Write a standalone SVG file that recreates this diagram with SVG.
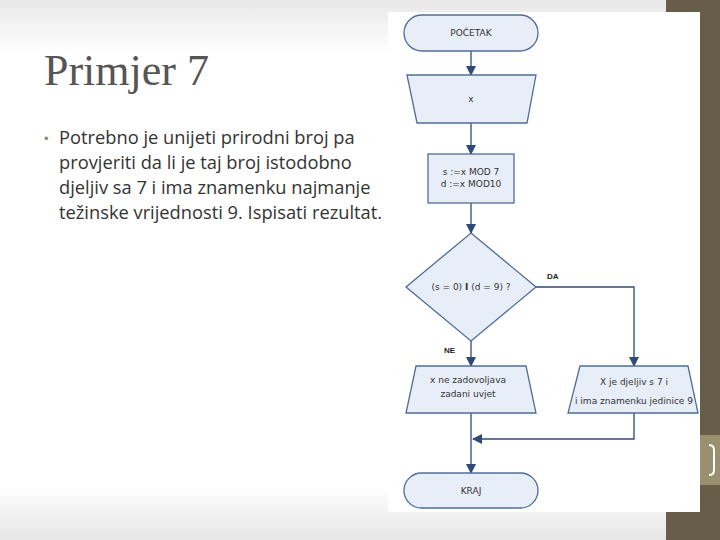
<svg xmlns="http://www.w3.org/2000/svg" width="720" height="540" viewBox="0 0 720 540">
<defs>
<linearGradient id="bg" x1="0" y1="0" x2="0" y2="1"><stop offset="0" stop-color="#e8e8e8"/><stop offset="0.1" stop-color="#ffffff"/><stop offset="0.9" stop-color="#ffffff"/><stop offset="1" stop-color="#e6e6e6"/></linearGradient>
<marker id="ah" markerWidth="10" markerHeight="10" refX="9" refY="5" orient="auto" markerUnits="userSpaceOnUse"><path d="M0,0 L10,5 L0,10 z" fill="#2e4a7a"/></marker>
<style>
.n{fill:#e8eef8;stroke:#4f6d96;stroke-width:1.3}
.c{fill:none;stroke:#2e4a7a;stroke-width:1.3}
.t{font-family:"DejaVu Sans",sans-serif;font-size:9px;fill:#333;text-anchor:middle}
.b{font-family:"Liberation Sans",sans-serif;font-size:8px;font-weight:bold;fill:#222}
.body{font-family:"Open Sans","Liberation Sans",sans-serif;font-size:18.3px;fill:#333}
</style>
</defs>
<rect width="720" height="540" fill="url(#bg)"/>
<rect x="666" y="0" width="54" height="540" fill="#675d48"/>
<rect x="700" y="435" width="20" height="50" fill="#9a9070"/>
<path d="M709,445 q5,0 5,5 v20 q0,5 -5,5" fill="none" stroke="#fff" stroke-width="2"/>
<rect x="388" y="12" width="312" height="500" fill="#ffffff"/>
<text x="44" y="85" font-family="Liberation Serif,serif" font-size="44" fill="#555">Primjer 7</text>
<text x="44" y="143" font-family="Liberation Sans,sans-serif" font-size="13" fill="#8a8a7a">•</text>
<text class="body"><tspan x="59" y="144">Potrebno je unijeti prirodni broj pa</tspan><tspan x="59" y="169">provjeriti da li je taj broj istodobno</tspan><tspan x="59" y="194">djeljiv sa 7 i ima znamenku najmanje</tspan><tspan x="59" y="219">težinske vrijednosti 9. Ispisati rezultat.</tspan></text>
<g id="connectors">
<path class="c" d="M471,51 V75" marker-end="url(#ah)"/>
<path class="c" d="M471,123 V154" marker-end="url(#ah)"/>
<path class="c" d="M471,203 V233" marker-end="url(#ah)"/>
<path class="c" d="M536,287 H634 V366" marker-end="url(#ah)"/>
<path class="c" d="M471,341 V366" marker-end="url(#ah)"/>
<path class="c" d="M634,413 V439 H473" marker-end="url(#ah)"/>
<path class="c" d="M471,413 V473" marker-end="url(#ah)"/>
<text class="b" x="547" y="279">DA</text>
<text class="b" x="444" y="353">NE</text>
</g>
<g id="start"><rect class="n" x="404" y="15" width="134" height="36" rx="18"/><text class="t" x="471" y="36">POČETAK</text></g>
<g id="input"><path class="n" d="M407,75 H536 L527,123 H417 Z"/><text class="t" x="471" y="102">x</text></g>
<g id="process"><rect class="n" x="428" y="154" width="86" height="49"/><text class="t" x="471" y="175">s :=x MOD 7</text><text class="t" x="471" y="187">d :=x MOD10</text></g>
<g id="decision"><path class="n" d="M471,233 L536,287 L471,341 L406,287 Z"/><text class="t" x="471" y="290">(s = 0) <tspan font-weight="bold">I</tspan> (d = 9) ?</text></g>
<g id="outNo"><path class="n" d="M416,366 H526 L536,413 H406 Z"/><text class="t" x="468" y="383">x ne zadovoljava</text><text class="t" x="468" y="397">zadani uvjet</text></g>
<g id="outYes"><path class="n" d="M580,366 H688 L698,413 H568 Z"/><text class="t" x="634" y="385">X je djeljiv s 7 i</text><text class="t" x="634" y="404">i ima znamenku jedinice 9</text></g>
<g id="end"><rect class="n" x="404" y="473" width="134" height="35" rx="17.5"/><text class="t" x="471" y="494">KRAJ</text></g>
</svg>
